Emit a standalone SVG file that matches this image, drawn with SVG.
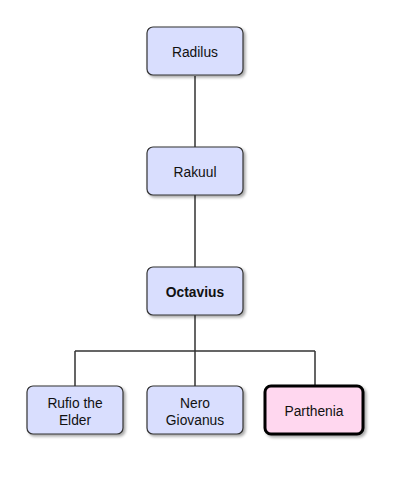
<svg xmlns="http://www.w3.org/2000/svg" width="401" height="497" viewBox="0 0 401 497">
<defs>
<filter id="sh" x="-20%" y="-20%" width="150%" height="150%">
<feGaussianBlur in="SourceAlpha" stdDeviation="1.5"/>
<feOffset dx="2" dy="2"/>
<feComponentTransfer><feFuncA type="linear" slope="0.35"/></feComponentTransfer>
<feMerge><feMergeNode/><feMergeNode in="SourceGraphic"/></feMerge>
</filter>
<style>
.n rect{fill:#d9defe;stroke:#333;stroke-width:1.2;filter:url(#sh)}
.n text{font-family:"Liberation Sans",Arial,sans-serif;font-size:13.8px;fill:#111;text-anchor:middle}
#parthenia rect{fill:#ffd7ef;stroke:#000;stroke-width:3}
.c{fill:none;stroke:#333;stroke-width:1.5}
</style>
</defs>
<rect width="401" height="497" fill="#fff"/>
<g id="connectors">
<path class="c" d="M195 76V147M195 195V267M195 315V386M75 351H315M75 351V386M315 351V386"/>
</g>
<g id="radilus" class="n"><rect x="147" y="27" width="96" height="48" rx="6"/><text x="195" y="57">Radilus</text></g>
<g id="rakuul" class="n"><rect x="147" y="147" width="96" height="48" rx="6"/><text x="195" y="177">Rakuul</text></g>
<g id="octavius" class="n"><rect x="147" y="267" width="96" height="48" rx="6"/><text x="195" y="297" font-weight="bold">Octavius</text></g>
<g id="rufio" class="n"><rect x="27" y="386" width="96" height="48" rx="6"/><text x="75" y="408">Rufio the</text><text x="75" y="425">Elder</text></g>
<g id="nero" class="n"><rect x="147" y="386" width="96" height="48" rx="6"/><text x="195" y="408">Nero</text><text x="195" y="425">Giovanus</text></g>
<g id="parthenia" class="n"><rect x="265" y="386" width="98" height="48" rx="6"/><text x="314" y="416">Parthenia</text></g>
</svg>
